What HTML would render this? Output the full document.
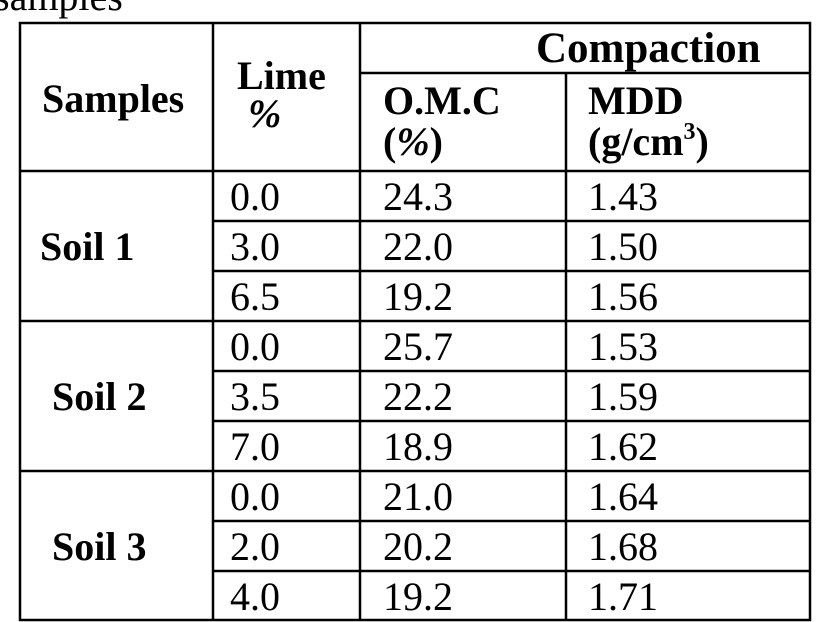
<!DOCTYPE html>
<html><head><meta charset="utf-8">
<style>
html,body{margin:0;padding:0;background:#fff;width:832px;height:622px;overflow:hidden}
svg{display:block}
text{font-family:"Liberation Serif",serif;fill:#000;font-size:40px}
.b{font-weight:bold}
</style></head><body>
<svg width="832" height="622" viewBox="0 0 832 622">
<text x="-6" y="10">samples</text>
<g stroke="#000" stroke-width="2.5" fill="none">
<rect x="20" y="23" width="790" height="597"/>
<line x1="213" y1="23" x2="213" y2="620"/>
<line x1="360" y1="23" x2="360" y2="620"/>
<line x1="566" y1="73" x2="566" y2="620"/>
<line x1="360" y1="73" x2="810" y2="73"/>
<line x1="20" y1="171" x2="810" y2="171"/>
<line x1="213" y1="221" x2="810" y2="221"/>
<line x1="213" y1="271" x2="810" y2="271"/>
<line x1="20" y1="321" x2="810" y2="321"/>
<line x1="213" y1="371" x2="810" y2="371"/>
<line x1="213" y1="421" x2="810" y2="421"/>
<line x1="20" y1="471" x2="810" y2="471"/>
<line x1="213" y1="521" x2="810" y2="521"/>
<line x1="213" y1="571" x2="810" y2="571"/>
</g>
<text class="b" x="42" y="112">Samples</text>
<text class="b" x="237" y="89">Lime</text>
<text class="b" x="248" y="127" font-style="italic">%</text>
<text class="b" x="536" y="62" style="font-size:43px">Compaction</text>
<text class="b" x="383" y="114">O.M.C</text>
<text class="b" x="383" y="155">(<tspan font-style="italic">%</tspan>)</text>
<text class="b" x="588" y="114">MDD</text>
<text class="b" x="588" y="155">(g/cm<tspan dy="-16" style="font-size:24px">3</tspan><tspan dy="16">)</tspan></text>
<text class="b" x="40" y="260">Soil 1</text>
<text class="b" x="52" y="410">Soil 2</text>
<text class="b" x="52" y="560">Soil 3</text>
<g id="rows"></g>
</svg>
<script>
const lime = ["0.0","3.0","6.5","0.0","3.5","7.0","0.0","2.0","4.0"];
const omc = ["24.3","22.0","19.2","25.7","22.2","18.9","21.0","20.2","19.2"];
const mdd = ["1.43","1.50","1.56","1.53","1.59","1.62","1.64","1.68","1.71"];
const g = document.getElementById('rows');
const NS = "http://www.w3.org/2000/svg";
function cell(x, y, t, name) {
  const e = document.createElementNS(NS, 'text');
  e.setAttribute('x', x);
  e.setAttribute('y', y);
  e.textContent = t;
  
  
  g.appendChild(e);
}
for (let i = 0; i < lime.length; i++) {
  const y = 171 + i * 50 + 39;
  cell(230, y, lime[i], 'lime-cell');
  cell(383, y, omc[i], 'omc-cell');
  cell(588, y, mdd[i], 'mdd-cell');
}
</script>
</body></html>
